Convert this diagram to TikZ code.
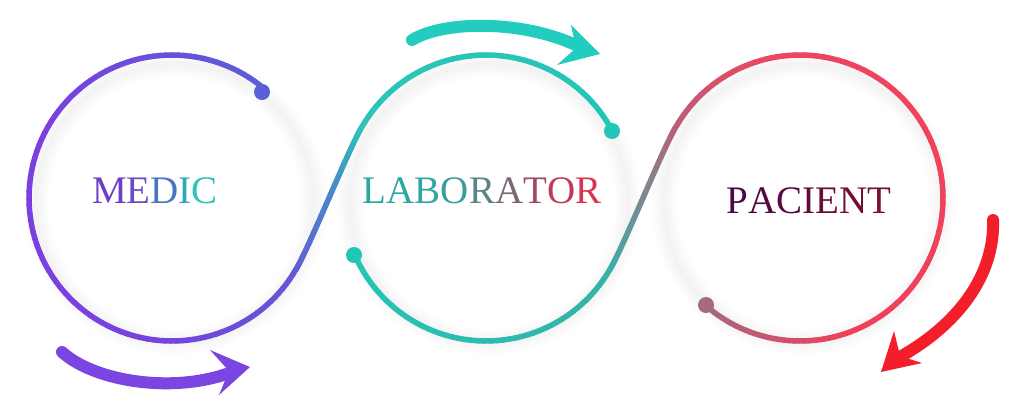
\documentclass[tikz,border=0pt]{standalone}
\usepackage{fontspec}
\setmainfont{Liberation Serif}
\definecolor{mdot}{HTML}{5A5ED8}
\definecolor{mblue}{HTML}{6458D6}
\definecolor{mpurp}{HTML}{7B3FE0}
\definecolor{mpurp2}{HTML}{7842DE}
\definecolor{sblue}{HTML}{4A84CA}
\definecolor{teal1}{HTML}{2CC4B8}
\definecolor{teal2}{HTML}{22C6B6}
\definecolor{teal3}{HTML}{36B2AA}
\definecolor{sgray}{HTML}{7A8A94}
\definecolor{smauve}{HTML}{BC5E78}
\definecolor{pred}{HTML}{EE4560}
\definecolor{pred2}{HTML}{F0405A}
\definecolor{pdot}{HTML}{A36A80}
\definecolor{arrP}{HTML}{7A45E0}
\definecolor{arrT}{HTML}{22CDC0}
\definecolor{arrR}{HTML}{F21F2A}
\tikzset{
  pathline/.style={line width=5.5, line cap=round},
  enddot/.style={circle, inner sep=0pt, minimum size=16pt},
  brush/.style={line width=12, line cap=round},
  label/.style={inner sep=0pt, font=\fontsize{39}{45}\selectfont},
  declare function={bez(\t,\a,\b,\c,\d)=(1-\t)^3*\a+3*(1-\t)^2*\t*\b+3*(1-\t)*\t^2*\c+\t^3*\d;}
}
\def\R{143}
% gradient arc: cx, cy, from, to, colA, colB, N
\newcommand\gradarc[7]{%
  \foreach \i in {1,...,#7}{%
    \pgfmathsetmacro\ta{#3+(#4-#3)*(\i-1)/#7}%
    \pgfmathsetmacro\tb{#3+(#4-#3)*\i/#7}%
    \pgfmathsetmacro\pp{100*(\i-0.5)/#7}%
    \draw[pathline, draw=#6!\pp!#5] ({#1+\R*cos(\ta)},{#2+\R*sin(\ta)}) -- ({#1+\R*cos(\tb)},{#2+\R*sin(\tb)});
  }}
% gradient bezier: t0, t1, colA, colB, N (uses \Pax.. \Pdy)
\newcommand\gradbez[5]{%
  \foreach \i in {1,...,#5}{%
    \pgfmathsetmacro\ta{#1+(#2-#1)*(\i-1)/#5}%
    \pgfmathsetmacro\tb{#1+(#2-#1)*\i/#5}%
    \pgfmathsetmacro\pp{100*(\i-0.5)/#5}%
    \pgfmathsetmacro\xa{bez(\ta,\Pax,\Pbx,\Pcx,\Pdx)}%
    \pgfmathsetmacro\ya{bez(\ta,\Pay,\Pby,\Pcy,\Pdy)}%
    \pgfmathsetmacro\xb{bez(\tb,\Pax,\Pbx,\Pcx,\Pdx)}%
    \pgfmathsetmacro\yb{bez(\tb,\Pay,\Pby,\Pcy,\Pdy)}%
    \draw[pathline, draw=#4!\pp!#3] (\xa,\ya) -- (\xb,\yb);
  }}
\begin{document}
\begin{tikzpicture}[x=1pt,y=-1pt]
\useasboundingbox (0,0) rectangle (1024,402);
\fill[white] (0,0) rectangle (1024,402);
% soft shadows
\foreach \cx in {172,486,800}{
  \foreach \k in {1,...,12}{
    \draw[black, opacity=0.0045, line width=\k*2.2pt] (\cx+3,203) circle[radius=139pt];
  }
}
% ---- path A: medic circle -> S-curve -> laboratory top
\gradarc{172}{198}{-50}{-150}{mdot}{mpurp}{40}
\gradarc{172}{198}{-150}{-260}{mpurp}{mpurp2}{40}
\gradarc{172}{198}{-260}{-330}{mpurp2}{mblue}{30}
\def\Pax{296}\def\Pay{269.5}\def\Pbx{311}\def\Pby{243.5}
\def\Pcx{347}\def\Pcy{152.5}\def\Pdx{362}\def\Pdy{126.5}
\gradbez{0}{0.5}{mblue}{sblue}{25}
\gradbez{0.5}{1}{sblue}{teal1}{25}
\gradarc{486}{198}{210}{332}{teal1}{teal2}{50}
% ---- path B: laboratory bottom -> S-curve -> pacient circle
\gradarc{486}{198}{156.6}{30}{teal2}{teal3}{50}
\def\Pax{610}\def\Pay{269.5}\def\Pbx{625}\def\Pby{243.5}
\def\Pcx{661}\def\Pcy{152.5}\def\Pdx{676}\def\Pdy{126.5}
\gradbez{0}{0.5}{teal3}{sgray}{25}
\gradbez{0.5}{1}{sgray}{smauve}{25}
\gradarc{800}{198}{210}{260}{smauve}{pred}{25}
\gradarc{800}{198}{260}{430}{pred}{pred2}{60}
\gradarc{800}{198}{430}{491}{pred2}{pdot}{30}
% end dots
\node[enddot, fill=mdot] (mdotA) at (262,92) {};
\node[enddot, fill=teal2] (ldotA) at (612,131) {};
\node[enddot, fill=teal2] (ldotB) at (354,255) {};
\node[enddot, fill=pdot] (pdotA) at (706,305) {};
% labels
\node[label] (medic) at (155,191) {\textcolor[HTML]{6E3FC6}{M}\textcolor[HTML]{6A4BC8}{E}\textcolor[HTML]{4A74C4}{D}\textcolor[HTML]{2EA8B8}{I}\textcolor[HTML]{2CC4B4}{C}};
\node[label] (lab) at (482,191) {\textcolor[HTML]{2AA89C}{L}\textcolor[HTML]{2DA8A0}{A}\textcolor[HTML]{32A6A0}{B}\textcolor[HTML]{3A9C9C}{O}\textcolor[HTML]{5A8488}{R}\textcolor[HTML]{7A6878}{A}\textcolor[HTML]{A04A62}{T}\textcolor[HTML]{C23A58}{O}\textcolor[HTML]{D8364E}{R}};
\node[label] (pac) at (809,201) {\textcolor[HTML]{4A0A48}{P}\textcolor[HTML]{520A44}{A}\textcolor[HTML]{5A0A40}{C}\textcolor[HTML]{620A3C}{I}\textcolor[HTML]{6A0C38}{E}\textcolor[HTML]{720E34}{N}\textcolor[HTML]{7A1030}{T}};
% brush arrows
\draw[brush, arrP] (62,352) .. controls (95,382) and (175,394) .. (232,372);
\fill[arrP] (210,350) -- (250,367) -- (219,395) -- (229,371) -- cycle;
\draw[brush, arrT] (412,40) .. controls (445,20) and (525,20) .. (580,47);
\fill[arrT] (571,25) -- (600,54) -- (557,65) -- (576,48) -- cycle;
\draw[brush, arrR] (993,220) .. controls (995,275) and (958,325) .. (898,358);
\fill[arrR] (894,331) -- (881,372) -- (922,363) -- (900,356) -- cycle;
\end{tikzpicture}
\end{document}
